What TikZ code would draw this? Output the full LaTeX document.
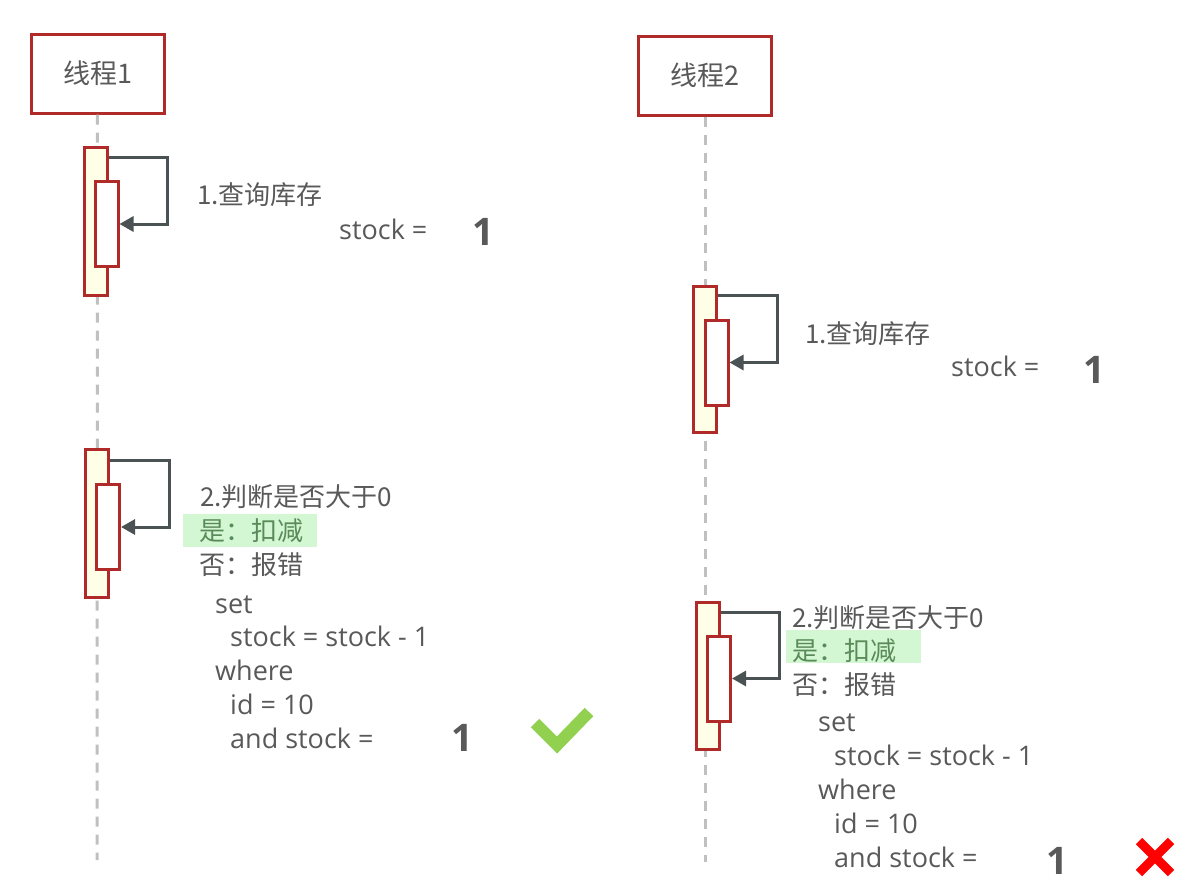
\documentclass[tikz,border=0pt]{standalone}
\usepackage{fontspec}
\setmainfont{Noto Sans CJK SC}
\newfontfamily\latfont{Open Sans}
\usetikzlibrary{arrows.meta}
\definecolor{txt}{HTML}{595959}
\definecolor{boxred}{HTML}{B02A2A}
\definecolor{actfill}{HTML}{FFFFE8}
\definecolor{msgc}{HTML}{4A5253}
\definecolor{lifec}{HTML}{C0C0C0}
\definecolor{hl}{HTML}{D2F7D2}
\definecolor{hltxt}{HTML}{5A8A5A}
\definecolor{okgreen}{HTML}{92D050}
\tikzset{
  thread/.style={draw=boxred, line width=3pt, fill=white, minimum width=133pt, minimum height=79pt, inner sep=0pt, text=txt, font=\fontsize{27}{32}\selectfont},
  life/.style={draw=lifec, line width=3pt, dash pattern=on 10pt off 8pt},
  outerbar/.style={draw=boxred, line width=3pt, fill=actfill, minimum width=23pt, minimum height=148pt, inner sep=0pt},
  innerbar/.style={draw=boxred, line width=3pt, fill=white, minimum width=23pt, minimum height=85pt, inner sep=0pt},
  msg/.style={draw=msgc, line width=3pt, -{Triangle[length=14pt,width=15pt]}},
  lbl/.style={anchor=base west, inner sep=0pt, text=txt, font=\fontsize{26}{30}\selectfont},
  glbl/.style={anchor=base west, inner sep=0pt, text=hltxt, font=\fontsize{26}{30}\selectfont},
  code/.style={anchor=base west, inner sep=0pt, text=txt, font=\latfont\fontsize{27}{30}\selectfont},
  big/.style={anchor=base, inner sep=0pt, text=txt, font=\latfont\bfseries\fontsize{38}{40}\selectfont},
  hlbox/.style={fill=hl, draw=none},
}
\begin{document}
\begin{tikzpicture}[x=1pt,y=-1pt]
\useasboundingbox (0,0) rectangle (1203,892);
% threads
\node[thread] (t1) at (97.5,73.5) {线程1};
\node[thread] (t2) at (705,75.5) {线程2};
\coordinate (e1) at (97,860);
\coordinate (e2) at (705,862);
\draw[life] (t1.south) -- (e1);
\draw[life] (t2.south) -- (e2);
% thread 1, step 1
\node[outerbar] (a1o) at (95.5,221) {};
\node[innerbar] (a1i) at (106.5,224) {};
\draw[msg] ([yshift=-12pt]a1o.north east) -- ++(59,0) |- (a1i.east);
\node[lbl] (q1) at (197,204) {1.查询库存};
\node[code] (s1) at (339,239) {stock =};
\node[big] (n1) at (483,245) {1};
% thread 1, step 2
\node[outerbar] (b1o) at (96.5,523.5) {};
\node[innerbar] (b1i) at (108,527) {};
\draw[msg] ([yshift=-12pt]b1o.north east) -- ++(60,0) |- (b1i.east);
\fill[hlbox] (183,514) rectangle (317,547);
\node[lbl] (j1) at (200,506) {2.判断是否大于0};
\node[glbl] (y1) at (199,540) {是：扣减};
\node[lbl] (f1) at (199,574) {否：报错};
\node[code] (set1) at (215,613) {set};
\node[code] (st1) at (230,646) {stock = stock - 1};
\node[code] (w1) at (215,680) {where};
\node[code] (id1) at (230,714) {id = 10};
\node[code] (and1) at (230,748) {and stock =};
\node[big] (m1) at (462,751) {1};
\draw[okgreen, line width=12pt, miter limit=10] (535,723) -- (557,745) -- (589,712);
% thread 2, step 1
\node[outerbar, minimum height=146pt] (a2o) at (704.5,359) {};
\node[innerbar] (a2i) at (716.5,362.5) {};
\draw[msg] ([yshift=-11pt]a2o.north east) -- ++(60,0) |- (a2i.east);
\node[lbl] (q2) at (805,343) {1.查询库存};
\node[code] (s2) at (951,376) {stock =};
\node[big] (n2) at (1094,383) {1};
% thread 2, step 2
\node[outerbar, minimum height=147pt] (b2o) at (707.5,675.5) {};
\node[innerbar] (b2i) at (719,678.5) {};
\draw[msg] ([yshift=-12pt]b2o.north east) -- ++(59,0) |- (b2i.east);
\fill[hlbox] (786,630) rectangle (921,663);
\node[lbl] (j2) at (792,627) {2.判断是否大于0};
\node[glbl] (y2) at (792,660) {是：扣减};
\node[lbl] (f2) at (792,694) {否：报错};
\node[code] (set2) at (818,731) {set};
\node[code] (st2) at (834,765) {stock = stock - 1};
\node[code] (w2) at (818,799) {where};
\node[code] (id2) at (834,833) {id = 10};
\node[code] (and2) at (834,867) {and stock =};
\node[big] (m2) at (1057,874) {1};
\draw[red, line width=9pt] (1139,841) -- (1171,873) (1171,841) -- (1139,873);
\end{tikzpicture}
\end{document}
